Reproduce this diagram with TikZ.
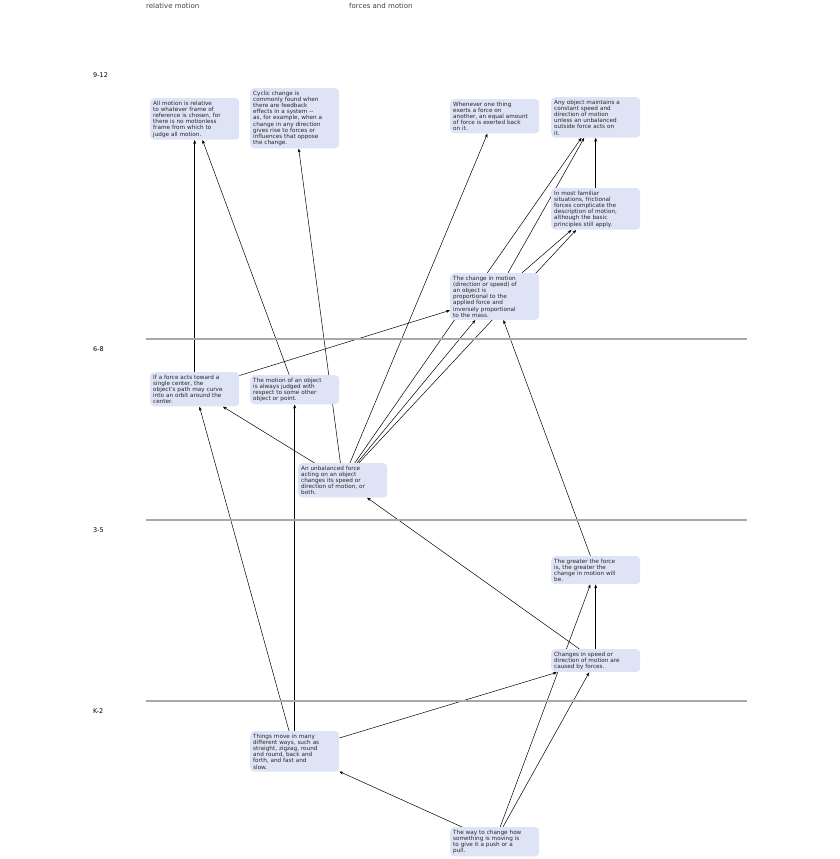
\documentclass[tikz,border=0pt]{standalone}
\usepackage{fontspec}
\setmainfont{DejaVu Sans}
\usetikzlibrary{arrows.meta,backgrounds}
\definecolor{boxfill}{RGB}{222,228,245}
\definecolor{rulegray}{RGB}{168,168,168}
\begin{document}
\begin{tikzpicture}[x=1pt,y=-1pt,
  concept/.style={anchor=north west,fill=boxfill,rounded corners=4pt,text width=83pt,
    inner xsep=3pt,inner ysep=2.5pt,align=left,font=\fontsize{5.7}{6.2}\selectfont,text=black!85},
  link/.style={-{Stealth[length=4pt,width=3pt]},line width=0.5pt},
  level/.style={anchor=west,inner sep=1pt,font=\fontsize{6.5}{7}\selectfont},
  strand/.style={anchor=west,inner sep=1pt,font=\fontsize{7}{8}\selectfont,text=black!75},
  rule/.style={line width=2.4pt,rulegray}]
\useasboundingbox (0,0) rectangle (840,859);
% strands and grade bands
\node[strand] (relhead) at (145,6) {relative motion};
\node[strand] (forhead) at (348,6) {forces and motion};
\node[level] (g912) at (92,75) {9-12};
\node[level] (g68) at (92,349) {6-8};
\node[level] (g35) at (92,530) {3-5};
\node[level] (gk2) at (92,711) {K-2};
\foreach \y in {339,520,701} \draw[rule] (146,\y) -- (747,\y);
% 9-12
\node[concept] (allrel) at (150,98) {All motion is relative\\to whatever frame of\\reference is chosen, for\\there is no motionless\\frame from which to\\judge all motion.};
\node[concept] (cyclic) at (250,88) {Cyclic change is\\commonly found when\\there are feedback\\effects in a system -{}-\\as, for example, when a\\change in any direction\\gives rise to forces or\\influences that oppose\\the change.};
\node[concept] (equalopp) at (450,99) {Whenever one thing\\exerts a force on\\another, an equal amount\\of force is exerted back\\on it.};
\node[concept] (inertia) at (551,97) {Any object maintains a\\constant speed and\\direction of motion\\unless an unbalanced\\outside force acts on\\it.};
\node[concept] (friction) at (551,188) {In most familiar\\situations, frictional\\forces complicate the\\description of motion,\\although the basic\\principles still apply.};
\node[concept] (fma) at (450,273) {The change in motion\\(direction or speed) of\\an object is\\proportional to the\\applied force and\\inversely proportional\\to the mass.};
% 6-8
\node[concept] (orbit) at (150,372) {If a force acts toward a\\single center, the\\object's path may curve\\into an orbit around the\\center.};
\node[concept] (frame) at (250,375) {The motion of an object\\is always judged with\\respect to some other\\object or point.};
\node[concept] (unbal) at (298,463) {An unbalanced force\\acting on an object\\changes its speed or\\direction of motion, or\\both.};
% 3-5
\node[concept] (greater) at (551,556) {The greater the force\\is, the greater the\\change in motion will\\be.};
\node[concept] (changes) at (551,649) {Changes in speed or\\direction of motion are\\caused by forces.};
% K-2
\node[concept] (things) at (250,731) {Things move in many\\different ways, such as\\straight, zigzag, round\\and round, back and\\forth, and fast and\\slow.};
\node[concept] (pushpull) at (450,827) {The way to change how\\something is moving is\\to give it a push or a\\pull.};
% links
\begin{scope}[on background layer]
\draw[link] (orbit) -- (allrel);
\draw[link] (frame) -- (allrel);
\draw[link] (unbal) -- (cyclic);
\draw[link] (unbal) -- (equalopp);
\draw[link] (unbal) -- (inertia);
\draw[link] (fma) -- (inertia);
\draw[link] (friction) -- (inertia);
\draw[link] (fma) -- (friction);
\draw[link] (unbal) -- (friction);
\draw[link] (orbit) -- (fma);
\draw[link] (unbal) -- (fma);
\draw[link] (greater) -- (fma);
\draw[link] (unbal) -- (orbit);
\draw[link] (things) -- (orbit);
\draw[link] (things) -- (frame);
\draw[link] (changes) -- (unbal);
\draw[link] (changes) -- (greater);
\draw[link] (pushpull) -- (greater);
\draw[link] (things) -- (changes);
\draw[link] (pushpull) -- (changes);
\draw[link] (pushpull) -- (things);
\end{scope}
\end{tikzpicture}
\end{document}
